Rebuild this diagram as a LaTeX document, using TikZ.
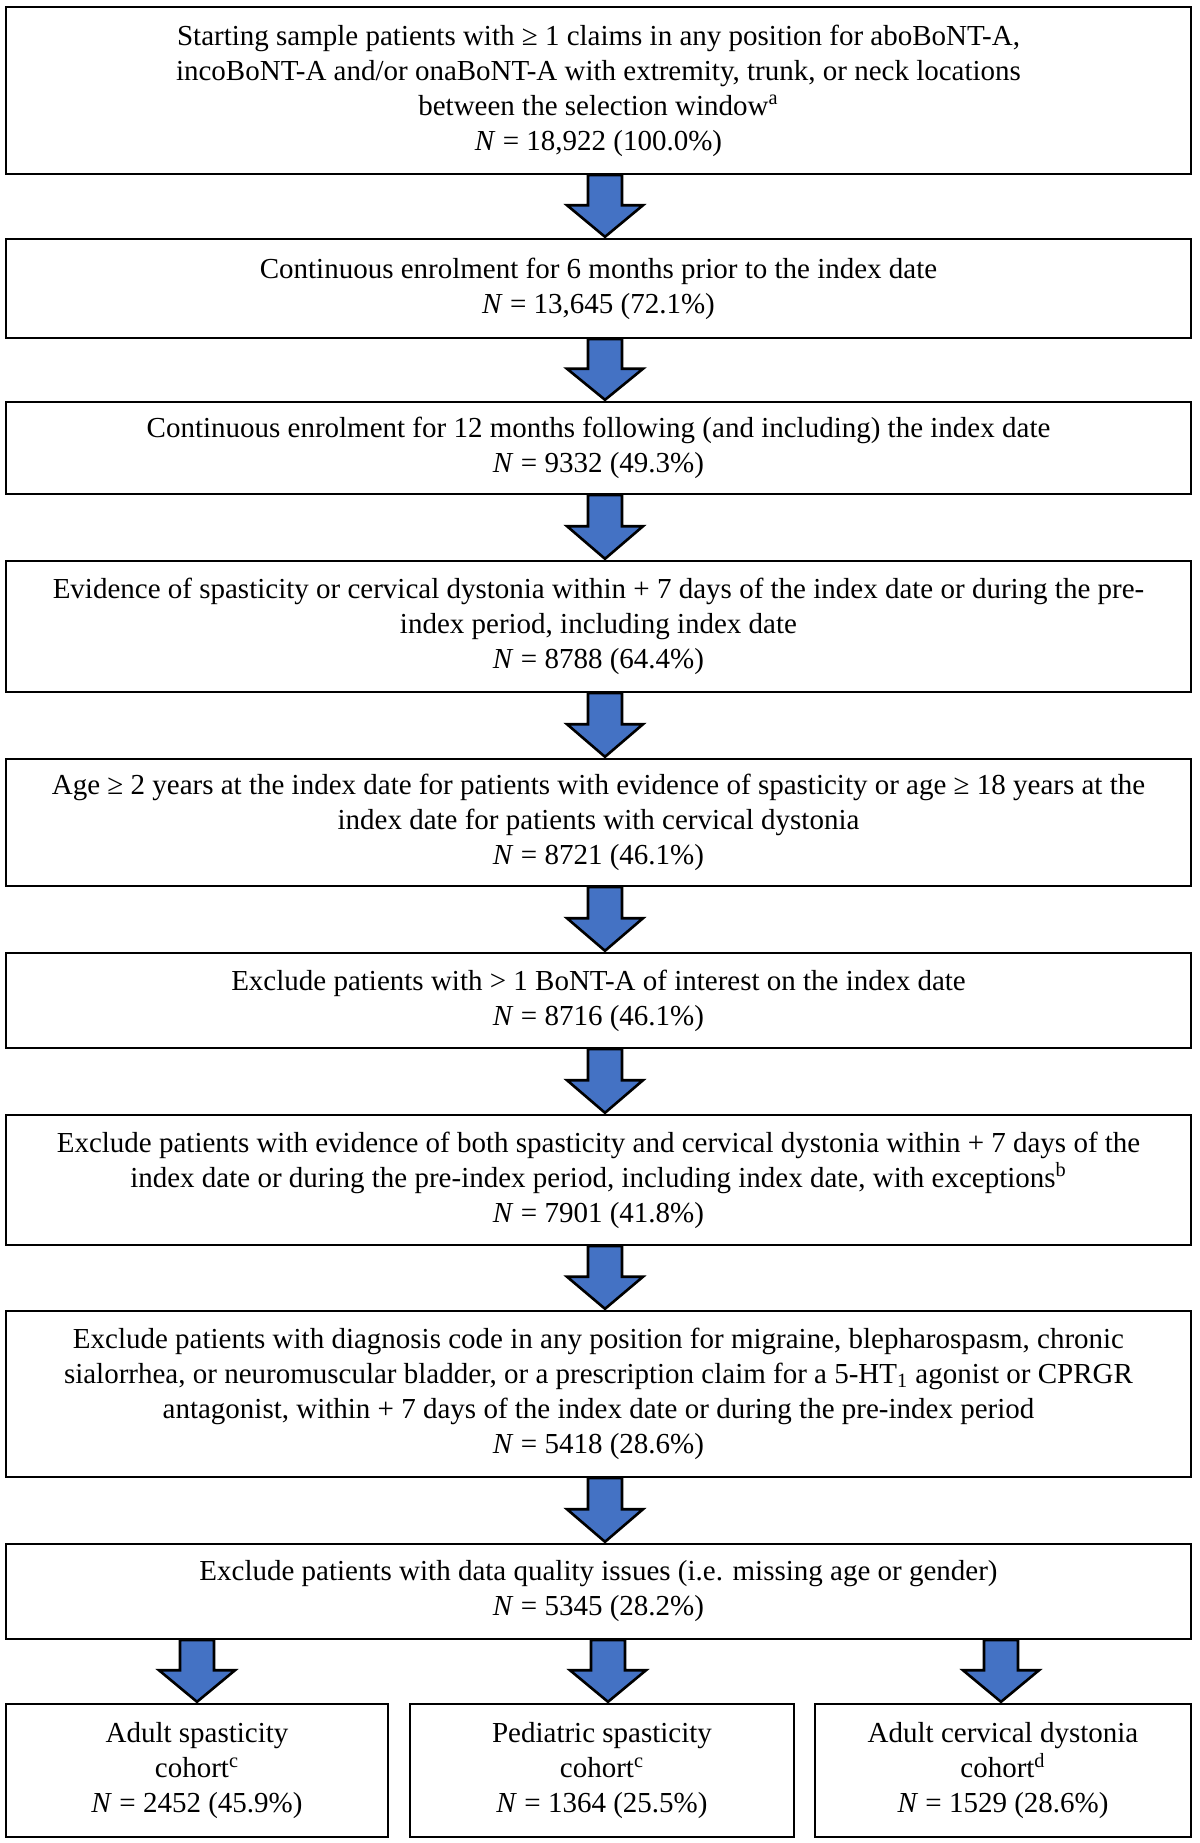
\documentclass[tikz,border=0pt]{standalone}
\usepackage{fontspec}
\setmainfont{Liberation Serif}
\usetikzlibrary{calc}
\definecolor{arrowblue}{HTML}{4472C4}
\tikzset{
  box/.style={draw=black, line width=1pt, inner sep=0pt, align=center,
    font=\fontsize{14.5pt}{17.5pt}\selectfont, minimum width=592.5pt},
  barrow/.style={draw=black, fill=arrowblue, line width=1.3pt, line join=miter}
}
\newcommand{\blockarrow}[3]{%
  \draw[barrow] let \p1=(#1.south), \p2=(#2.north), \p3=(#3,0),
    \n1={\y1+(\y2-\y1)*0.48} in
    (\x3-8.5pt,\y1) -- (\x3+8.5pt,\y1) -- (\x3+8.5pt,\n1) -- (\x3+19pt,\n1)
    -- (\x3,\y2+0.6pt) -- (\x3-19pt,\n1) -- (\x3-8.5pt,\n1) -- cycle;}
\begin{document}
\begin{tikzpicture}[x=0.5pt,y=-0.5pt]
\useasboundingbox (0,0) rectangle (1200,1843);
\node[box, minimum height=83.5pt] (b1) at (598.5,90.5)
  {Starting sample patients with ≥ 1 claims in any position for aboBoNT-A,\\
   incoBoNT-A and/or onaBoNT-A with extremity, trunk, or neck locations\\
   between the selection window\textsuperscript{a}\\
   \textit{N} = 18,922 (100.0\%)};
\node[box, minimum height=49.5pt] (b2) at (598.5,288.5)
  {Continuous enrolment for 6 months prior to the index date\\
   \textit{N} = 13,645 (72.1\%)};
\node[box, minimum height=46pt] (b3) at (598.5,448)
  {Continuous enrolment for 12 months following (and including) the index date\\
   \textit{N} = 9332 (49.3\%)};
\node[box, minimum height=65.5pt] (b4) at (598.5,626.5)
  {Evidence of spasticity or cervical dystonia within + 7 days of the index date or during the pre-\\
   index period, including index date\\
   \textit{N} = 8788 (64.4\%)};
\node[box, minimum height=63.5pt] (b5) at (598.5,822.5)
  {Age ≥ 2 years at the index date for patients with evidence of spasticity or age ≥ 18 years at the\\
   index date for patients with cervical dystonia\\
   \textit{N} = 8721 (46.1\%)};
\node[box, minimum height=47.5pt] (b6) at (598.5,1000.5)
  {Exclude patients with > 1 BoNT-A of interest on the index date\\
   \textit{N} = 8716 (46.1\%)};
\node[box, minimum height=65pt] (b7) at (598.5,1180)
  {Exclude patients with evidence of both spasticity and cervical dystonia within + 7 days of the\\
   index date or during the pre-index period, including index date, with exceptions\textsuperscript{b}\\
   \textit{N} = 7901 (41.8\%)};
\node[box, minimum height=83pt] (b8) at (598.5,1394)
  {Exclude patients with diagnosis code in any position for migraine, blepharospasm, chronic\\
   sialorrhea, or neuromuscular bladder, or a prescription claim for a 5-HT\textsubscript{1} agonist or CPRGR\\
   antagonist, within + 7 days of the index date or during the pre-index period\\
   \textit{N} = 5418 (28.6\%)};
\node[box, minimum height=47.5pt] (b9) at (598.5,1591.5)
  {Exclude patients with data quality issues (i.e. missing age or gender)\\
   \textit{N} = 5345 (28.2\%)};
\node[box, minimum height=66.5pt, minimum width=191pt] (c1) at (197,1770.5)
  {Adult spasticity\\ cohort\textsuperscript{c}\\ \textit{N} = 2452 (45.9\%)};
\node[box, minimum height=66.5pt, minimum width=192pt] (c2) at (602,1770.5)
  {Pediatric spasticity\\ cohort\textsuperscript{c}\\ \textit{N} = 1364 (25.5\%)};
\node[box, minimum height=66.5pt, minimum width=188pt] (c3) at (1003,1770.5)
  {Adult cervical dystonia\\ cohort\textsuperscript{d}\\ \textit{N} = 1529 (28.6\%)};
\blockarrow{b1}{b2}{605}
\blockarrow{b2}{b3}{605}
\blockarrow{b3}{b4}{605}
\blockarrow{b4}{b5}{605}
\blockarrow{b5}{b6}{605}
\blockarrow{b6}{b7}{605}
\blockarrow{b7}{b8}{605}
\blockarrow{b8}{b9}{605}
\blockarrow{b9}{c1}{197}
\blockarrow{b9}{c2}{608}
\blockarrow{b9}{c3}{1001}
\end{tikzpicture}
\end{document}
